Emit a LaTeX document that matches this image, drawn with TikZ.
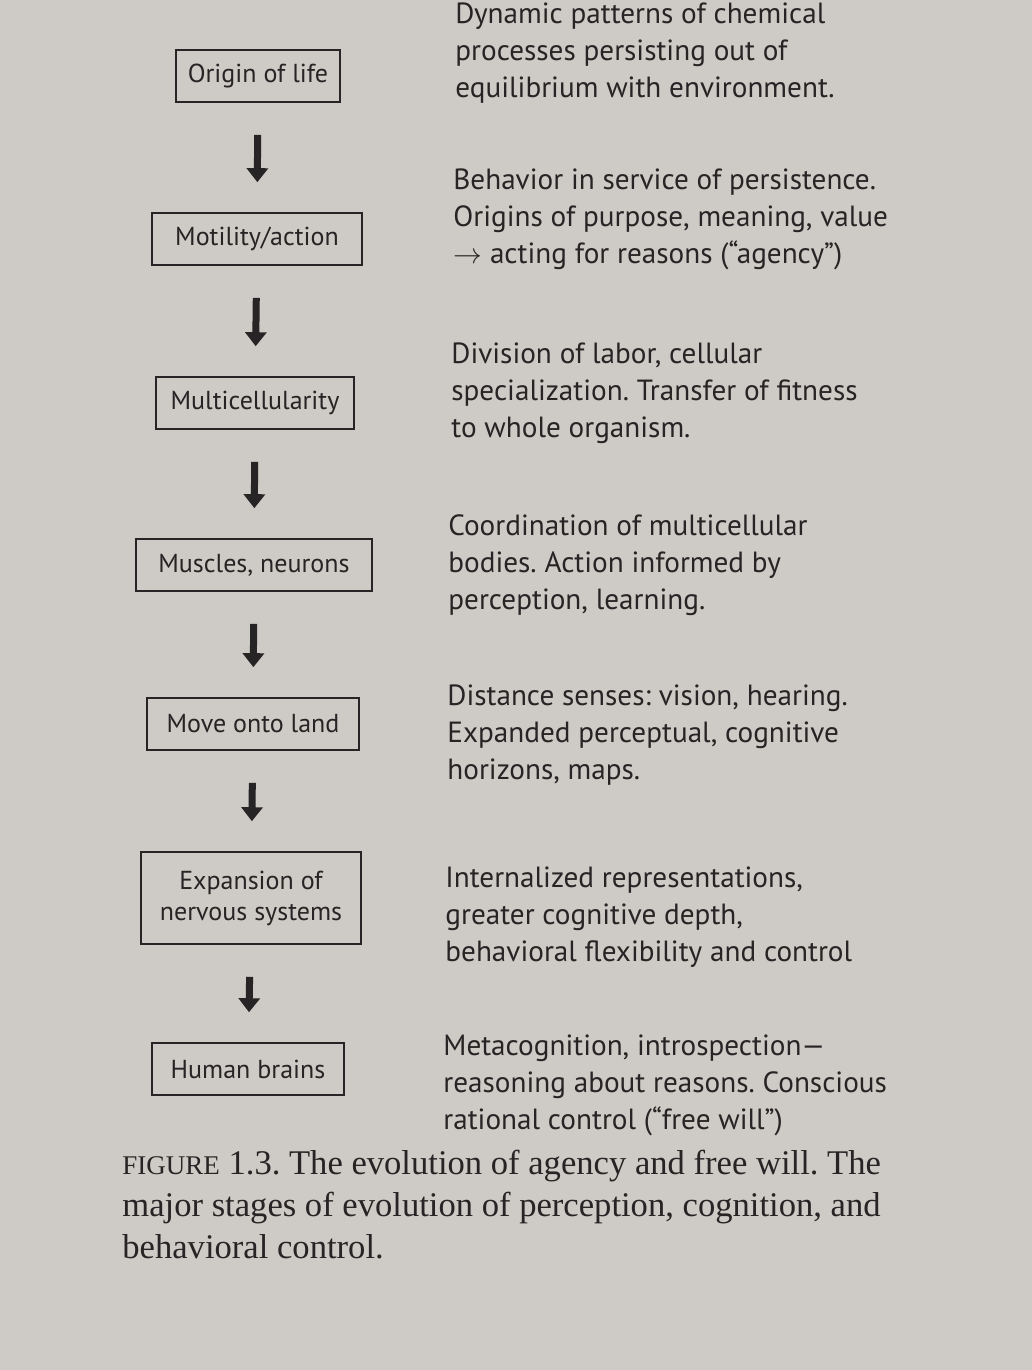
\documentclass[tikz,border=0pt]{standalone}
\usepackage{fontspec}
\setmainfont{Liberation Serif}
\newfontfamily\descfont{PT Sans}
\usetikzlibrary{arrows.meta}
\definecolor{pagebg}{RGB}{206,202,198}
\definecolor{ink}{RGB}{38,36,36}
\frenchspacing
\tikzset{
  stage/.style={draw=ink, line width=0.8pt, text=ink, font=\descfont\fontsize{13}{15.5}\selectfont,
    align=center, minimum height=26pt, inner sep=3pt},
  desc/.style={anchor=north west, align=left, text=ink, inner sep=0pt,
    font=\descfont\fontsize{14.6}{18.5}\selectfont},
  flowarrow/.style={draw=ink, line width=3.5pt, -{Triangle[width=10.5pt,length=7pt]},
    shorten <=16pt, shorten >=15pt},
  caption/.style={anchor=north west, align=left, text=ink, inner sep=0pt,
    font=\fontsize{17.3}{21}\selectfont}
}
\begin{document}
\begin{tikzpicture}[x=0.5pt,y=-0.5pt]
\fill[pagebg] (0,0) rectangle (1032,1370);
\useasboundingbox (0,0) rectangle (1032,1370);

\node[stage, minimum width=82pt] (s1) at (258,76) {Origin of life};
\node[stage, minimum width=105pt] (s2) at (257,239) {Motility/action};
\node[stage, minimum width=99pt] (s3) at (255,403) {Multicellularity};
\node[stage, minimum width=118pt] (s4) at (254,565) {Muscles, neurons};
\node[stage, minimum width=106pt] (s5) at (253,724) {Move onto land};
\node[stage, minimum width=110pt, minimum height=46pt] (s6) at (251,898) {Expansion of\\nervous systems};
\node[stage, minimum width=96pt] (s7) at (248,1069) {Human brains};

\draw[flowarrow] (s1) -- (s2);
\draw[flowarrow] (s2) -- (s3);
\draw[flowarrow] (s3) -- (s4);
\draw[flowarrow] (s4) -- (s5);
\draw[flowarrow] (s5) -- (s6);
\draw[flowarrow] (s6) -- (s7);

\node[desc] (d1) at (455,2) {Dynamic patterns of chemical\\processes persisting out of\\equilibrium with environment.};
\node[desc] (d2) at (453,168) {Behavior in service of persistence.\\Origins of purpose, meaning, value\\$\rightarrow$ acting for reasons (“agency”)};
\node[desc] (d3) at (451,342) {Division of labor, cellular\\specialization. Transfer of fitness\\to whole organism.};
\node[desc] (d4) at (448,514) {Coordination of multicellular\\bodies. Action informed by\\perception, learning.};
\node[desc] (d5) at (447,684) {Distance senses: vision, hearing.\\Expanded perceptual, cognitive\\horizons, maps.};
\node[desc] (d6) at (445,866) {Internalized representations,\\greater cognitive depth,\\behavioral flexibility and control};
\node[desc] (d7) at (443,1034) {Metacognition, introspection—\\reasoning about reasons. Conscious\\rational control (“free will”)};

\node[caption] (cap) at (122,1150) {{\fontsize{13.5}{21}\selectfont FIGURE} 1.3. The evolution of agency and free will. The\\major stages of evolution of perception, cognition, and\\behavioral control.};
\end{tikzpicture}
\end{document}
